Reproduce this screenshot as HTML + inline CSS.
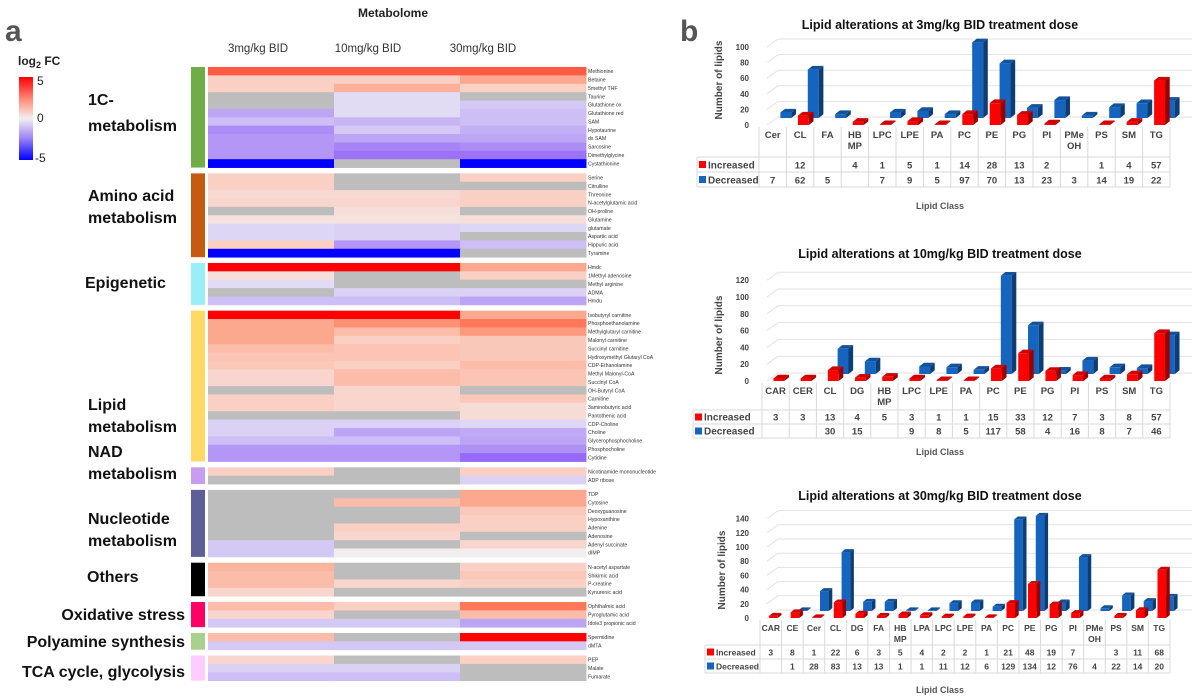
<!DOCTYPE html>
<html><head><meta charset="utf-8">
<style>
html,body{margin:0;padding:0;background:#fff;}
svg{display:block;font-family:"Liberation Sans",sans-serif;}
</style></head>
<body>
<svg id="fig" width="1200" height="699" viewBox="0 0 1200 699" xmlns="http://www.w3.org/2000/svg">
<defs>
<linearGradient id="lg" x1="0" y1="0" x2="0" y2="1">
<stop offset="0" stop-color="#ff0000"/><stop offset="0.3" stop-color="#ff9a88"/><stop offset="0.5" stop-color="#f2eef0"/><stop offset="0.72" stop-color="#a58cf5"/><stop offset="1" stop-color="#0000ff"/>
</linearGradient>
</defs>
<text x="5" y="41" font-size="30" font-weight="bold" fill="#555">a</text>
<text x="680" y="41" font-size="30" font-weight="bold" fill="#555">b</text>
<text x="393" y="17" font-size="12" font-weight="bold" fill="#222" text-anchor="middle">Metabolome</text>
<g>
<text x="18" y="65" font-size="12" font-weight="bold" fill="#222">log<tspan font-size="9" dy="3">2</tspan><tspan dy="-3"> FC</tspan></text>
<rect x="19" y="77" width="14" height="83" fill="url(#lg)"/>
<text x="37" y="85" font-size="12" fill="#222">5</text>
<text x="37" y="122" font-size="12" fill="#222">0</text>
<text x="35" y="162" font-size="12" fill="#222">-5</text>
</g>
<g id="hm"></g>
<g id="charts"></g>
</svg>
<script>
// ---------- Heatmap data ----------
const groupNames = ["1C-metabolism","Amino acid metabolism","Epigenetic","Lipid metabolism","NAD metabolism","Nucleotide metabolism","Others","Oxidative stress","Polyamine synthesis","TCA cycle, glycolysis"];
const groupSizes = [12,10,5,18,2,8,4,3,2,3];
const groupColors = ["#70ad47","#c55a11","#99eef8","#ffd966","#c89cf0","#5f5f98","#000000","#ff0066","#a9d18e","#ffccff"];
const doseLabels = ["3mg/kg BID","10mg/kg BID","30mg/kg BID"];
const metabolites = ["Methionine","Betaine","5methyl THF","Taurine","Glutathione ox","Glutathione red","SAM","Hypotaurine","ds SAM","Sarcosine","Dimethylglycine","Cystathionine",
"Serine","Citrulline","Threonine","N-acetylglutamic acid","OH-proline","Glutamine","glutamate","Aspartic acid","Hippuric acid","Tyramine",
"Hmdc","1Methyl adenosine","Methyl arginine","ADMA","Hmdu",
"Isobutyryl carnitine","Phosphoethanolamine","Methylglutaryl carnitine","Malonyl carnitine","Succinyl carnitine","Hydroxymethyl Glutaryl CoA","CDP-Ethanolamine","Methyl Malonyl-CoA","Succinyl CoA","OH-Butyryl CoA","Carnitine","3aminobutyric acid","Pantothenic acid","CDP-Choline","Choline","Glycerophosphocholine","Phosphocholine","Cytidine",
"Nicotinamide mononucleotide","ADP ribose",
"TDP","Cytosine","Deoxyguanosine","Hypoxanthine","Adenine","Adenosine","Adenyl succinate","dIMP",
"N-acetyl aspartate","Shikimic acid","P-creatine","Kynurenic acid",
"Ophthalmic acid","Pyroglutamic acid","Idole3 propionic acid",
"Spermidine","dMTA",
"PEP","Malate","Fumarate"];
const fc3 = [3.5,1,1,null,null,-1.5,-1,-2,-1.8,-1.8,-1.8,-5,
1,1,0.7,0.8,null,0.4,-0.5,-0.5,1,-5,
5,0.5,-0.4,null,-1,
5,2,2,2,1.5,1.3,1.2,0.8,0.8,null,1,1,null,-0.6,-0.6,-1,-1.8,-1.8,
1,null,
null,null,null,null,null,null,-0.8,-0.8,
1.7,1.5,1.5,0.8,
1.5,0.8,-0.8,
1.5,-0.8,
0.8,-0.6,-1];
const fc10 = [3.5,1,1.8,-0.4,-0.4,-0.4,-1.2,-0.8,-1.5,-2.2,-2.6,null,
null,null,0.7,0.8,0.5,0.4,-0.6,-0.6,-1.8,-5,
5,null,null,-0.6,-1,
5,2.5,1.5,1,1.3,1.3,1,1.5,1.5,0.8,0.8,0.8,null,-0.6,-1.5,-1,-1.8,-1.8,
null,null,
null,1.5,null,null,1,0.8,null,0.05,
null,null,0.8,null,
1,null,-0.8,
null,-0.8,
null,-0.6,-1];
const fc30 = [3.5,2,1,null,-0.8,-1,-1,-1.3,-1.5,-2,-2.6,-5,
1,null,1,1,null,0.5,-0.5,null,-1,null,
2,1,null,-0.6,-1.5,
2,3,2.3,1.2,1.2,1.2,1.5,1.3,1.3,null,1.2,0.6,0.6,-0.5,-1.4,-1.5,-1.9,-2.8,
1,-0.6,
2,2,1.2,1,1,null,0.8,0.05,
1,1.2,1,null,
3,1.5,-1.5,
5,-0.8,
1,null,null];

const posStops=[[0,[242,238,240]],[1,[250,208,196]],[2,[252,168,142]],[3,[255,120,90]],[5,[255,0,0]]];
const negStops=[[0,[242,238,240]],[0.5,[222,214,245]],[1,[205,190,245]],[2,[172,140,245]],[2.8,[150,105,250]],[5,[0,0,255]]];
function colorOf(v){
  if(v===null) return "#bdbdbd";
  const s=v>=0?posStops:negStops; const a=Math.min(Math.abs(v),5);
  for(let i=1;i<s.length;i++){ if(a<=s[i][0]){ const t=(a-s[i-1][0])/(s[i][0]-s[i-1][0]);
    const c=s[i-1][1].map((x,k)=>Math.round(x+(s[i][1][k]-x)*t)); return "rgb("+c.join(",")+")"; } }
  return "rgb(0,0,255)";
}
const NS="http://www.w3.org/2000/svg";
function mk(tag,attrs,parent,txt){const e=document.createElementNS(NS,tag);for(const k in attrs)e.setAttribute(k,attrs[k]);if(txt!==undefined)e.textContent=txt;parent.appendChild(e);return e;}

const hm=document.getElementById("hm");
const hmX=208, colW=126, rowH=8.38, gap=5.8, hmTop=67;
const doseCenters=[258,368,483];
doseLabels.forEach((d,i)=>{
  const t=mk("text",{x:doseCenters[i],y:52,"font-size":11.5,fill:"#333","text-anchor":"middle"},hm,d);
  
  
});
const cols=[fc3,fc10,fc30];
let y=hmTop, idx=0;
const groupLabelLines=[[["1C-",88,105],["metabolism",88,131]],[["Amino acid",88,201],["metabolism",88,223]],[["Epigenetic",85,288]],[["Lipid",88,410],["metabolism",88,432]],[["NAD",88,457],["metabolism",88,479]],[["Nucleotide",88,524],["metabolism",88,546]],[["Others",87,582]],[["Oxidative stress",185,620,"end"]],[["Polyamine synthesis",185,647,"end"]],[["TCA cycle, glycolysis",185,677,"end"]]];
groupSizes.forEach((n,g)=>{
  const bar=mk("rect",{x:191,y:y,width:14,height:n*rowH,fill:groupColors[g]},hm);
  
  
  groupLabelLines[g].forEach(l=>{
    const t=mk("text",{x:l[1],y:l[2],"font-size":16,"font-weight":"bold",fill:"#111","text-anchor":l[3]||"start"},hm,l[0]);
    
    
  });
  for(let r=0;r<n;r++){
    for(let c=0;c<3;c++){
      const cell=mk("rect",{x:hmX+c*colW,y:y+r*rowH,width:colW+0.5,height:rowH+0.4,fill:colorOf(cols[c][idx])},hm);
      
      
    }
    const lb=mk("text",{x:588,y:y+r*rowH+6.2,"font-size":5.2,fill:"#333"},hm,metabolites[idx]);
    
    
    idx++;
  }
  y+=n*rowH+gap;
});

// ---------- Lipid chart data ----------
const cats1=["Cer","CL","FA","HB|MP","LPC","LPE","PA","PC","PE","PG","PI","PMe|OH","PS","SM","TG"];
const inc1=[null,12,null,4,1,5,1,14,28,13,2,null,1,4,57];
const dec1=[7,62,5,null,7,9,5,97,70,13,23,3,14,19,22];
const ticks1=[0,20,40,60,80,100];
const cats2=["CAR","CER","CL","DG","HB|MP","LPC","LPE","PA","PC","PE","PG","PI","PS","SM","TG"];
const inc2=[3,3,13,4,5,3,1,1,15,33,12,7,3,8,57];
const dec2=[null,null,30,15,null,9,8,5,117,58,4,16,8,7,46];
const ticks2=[0,20,40,60,80,100,120];
const cats3=["CAR","CE","Cer","CL","DG","FA","HB|MP","LPA","LPC","LPE","PA","PC","PE","PG","PI","PMe|OH","PS","SM","TG"];
const inc3=[3,8,1,22,6,3,5,4,2,2,1,21,48,19,7,null,3,11,68];
const dec3=[null,1,28,83,13,13,1,1,11,12,6,129,134,12,76,4,22,14,20];
const ticks3=[0,20,40,60,80,100,120,140];
const titles=["Lipid alterations at 3mg/kg BID treatment dose","Lipid alterations at 10mg/kg BID treatment dose","Lipid alterations at 30mg/kg BID treatment dose"];

const layouts=[
 {cats:cats1,inc:inc1,dec:dec1,ticks:ticks1,title:titles[0],legX:697,c0:759,c1:1170,y0:125,ppu:0.78,tTop:127,hB:157,rH:15,titleY:29,lcY:209,ytX:722,ytY:80},
 {cats:cats2,inc:inc2,dec:dec2,ticks:ticks2,title:titles[1],legX:693,c0:762,c1:1170,y0:381,ppu:0.84,tTop:383,hB:410,rH:14,titleY:258,lcY:455,ytX:722,ytY:335},
 {cats:cats3,inc:inc3,dec:dec3,ticks:ticks3,title:titles[2],legX:705,c0:760,c1:1170,y0:618,ppu:0.71,tTop:620,hB:645,rH:14,titleY:500,lcY:693,ytX:725,ytY:570}
];
const charts=document.getElementById("charts");
function shade(hex,f){const n=parseInt(hex.slice(1),16);const r=(n>>16)&255,g=(n>>8)&255,b=n&255;return "rgb("+[r,g,b].map(x=>Math.round(x*f)).join(",")+")";}
function bar3d(parent,x,base,w,h,d,col,name){
  const g=mk("g",{},parent);
  
  
  const top=base-h, dy=d*0.8;
  mk("rect",{x:x,y:top,width:w,height:h,fill:col},g);
  mk("polygon",{points:`${x+w},${top} ${x+w+d},${top-dy} ${x+w+d},${base-dy} ${x+w},${base}`,fill:shade(col,0.6)},g);
  mk("polygon",{points:`${x},${top} ${x+d},${top-dy} ${x+w+d},${top-dy} ${x+w},${top}`,fill:shade(col,0.82)},g);
}
layouts.forEach((L,ci)=>{
  const G=mk("g",{},charts);
  
  
  const yS=v=>L.y0-v*L.ppu;
  const t=mk("text",{x:940,y:L.titleY,"font-size":12.5,"font-weight":"bold",fill:"#111","text-anchor":"middle"},G,L.title);
  
  
  L.ticks.forEach(v=>{
    const yy=yS(v);
    const gl=mk("path",{d:`M767,${yy} L778,${yy-8} L1192,${yy-8}`,stroke:"#e2e2e2","stroke-width":1,fill:"none"},G);
    
    
    const tl=mk("text",{x:749,y:yy+3,"font-size":8,"font-weight":"bold",fill:"#444","text-anchor":"end"},G,String(v));
    
    
  });
  const yt=mk("text",{x:L.ytX,y:L.ytY,"font-size":10,"font-weight":"bold",fill:"#444","text-anchor":"middle",transform:`rotate(-90 ${L.ytX} ${L.ytY})`},G,"Number of lipids");
  
  
  const n=L.cats.length, w=(L.c1-L.c0)/n;
  // blue (back) bars
  L.dec.forEach((v,i)=>{ if(v===null) return;
    bar3d(G,L.c0+i*w+0.78*w,L.y0-7,0.4*w,v*L.ppu,0.17*w,"#1565c0","bar-decreased");
  });
  L.inc.forEach((v,i)=>{ if(v===null) return;
    bar3d(G,L.c0+i*w+0.42*w,L.y0,0.4*w,v*L.ppu,0.17*w,"#ff0000","bar-increased");
  });
  // table
  const r1=L.hB, r2=L.hB+L.rH, r3=L.hB+2*L.rH;
  const tb=mk("g",{stroke:"#d9d9d9","stroke-width":1,fill:"none"},G);
  
  
  mk("line",{x1:L.legX,y1:r1,x2:L.c1,y2:r1},tb);
  mk("line",{x1:L.legX,y1:r2,x2:L.c1,y2:r2},tb);
  mk("line",{x1:L.legX,y1:r3,x2:L.c1,y2:r3},tb);
  mk("line",{x1:L.legX,y1:r1,x2:L.legX,y2:r3},tb);
  for(let i=0;i<=n;i++) mk("line",{x1:L.c0+i*w,y1:L.tTop,x2:L.c0+i*w,y2:r3},tb);
  L.cats.forEach((c,i)=>{
    const cx=L.c0+(i+0.5)*w, parts=c.split("|");
    parts.forEach((p,k)=>{
      const ct=mk("text",{x:cx,y:L.tTop+11+k*11,"font-size":w<24?8.5:9.5,"font-weight":"bold",fill:"#444","text-anchor":"middle"},G,p);
      
      
    });
    if(L.inc[i]!==null){const a=mk("text",{x:cx,y:r1+L.rH-3.5,"font-size":w<24?8.5:9.5,"font-weight":"bold",fill:"#444","text-anchor":"middle"},G,String(L.inc[i]));
      
      }
    if(L.dec[i]!==null){const b=mk("text",{x:cx,y:r2+L.rH-3.5,"font-size":w<24?8.5:9.5,"font-weight":"bold",fill:"#444","text-anchor":"middle"},G,String(L.dec[i]));
      
      }
  });
  const fs=ci===2?8.5:10;
  const ri=mk("rect",{x:L.legX+2,y:r1+L.rH/2-3.5,width:7,height:7,fill:"#ff0000"},G);
  
  
  const ti=mk("text",{x:L.legX+11,y:r1+L.rH-3.5,"font-size":fs,"font-weight":"bold",fill:"#444"},G,"Increased");
  
  
  const rd=mk("rect",{x:L.legX+2,y:r2+L.rH/2-3.5,width:7,height:7,fill:"#1565c0"},G);
  
  
  const td=mk("text",{x:L.legX+11,y:r2+L.rH-3.5,"font-size":fs,"font-weight":"bold",fill:"#444"},G,"Decreased");
  
  
  const lc=mk("text",{x:940,y:L.lcY,"font-size":9,"font-weight":"bold",fill:"#555","text-anchor":"middle"},G,"Lipid Class");
  
  
});
</script>
</body></html>
